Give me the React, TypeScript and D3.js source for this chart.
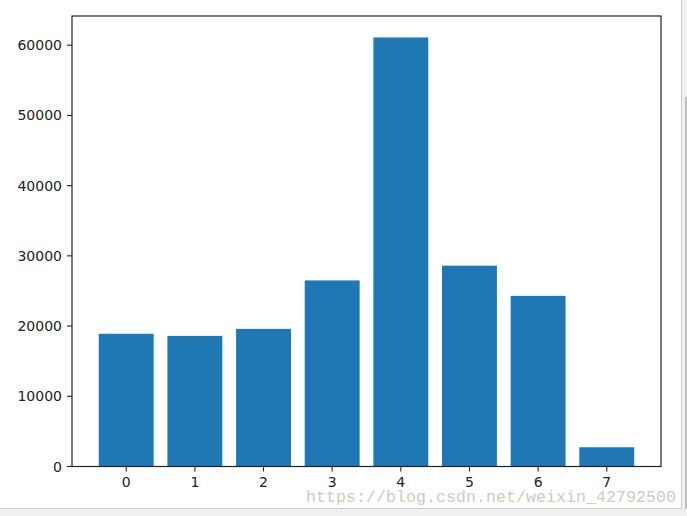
import React from "react";
import * as d3 from "d3";

const categories = ["0", "1", "2", "3", "4", "5", "6", "7"];
const values = [18900, 18600, 19600, 26500, 61100, 28600, 24300, 2740];
const yTicks = [0, 10000, 20000, 30000, 40000, 50000, 60000];

const W = 687;
const H = 516;
const M = { left: 72, right: 661, top: 16, bottom: 466.5 };

export default function App() {
  const n = categories.length;
  const x = d3
    .scaleLinear()
    .domain([-0.4 - 0.05 * (n - 0.2), n - 1 + 0.4 + 0.05 * (n - 0.2)])
    .range([M.left, M.right]);
  const ymax = (d3.max(values) as number) * 1.05;
  const y = d3.scaleLinear().domain([0, ymax]).range([M.bottom, M.top]);
  const bw = x(0.8) - x(0);
  const font = "DejaVu Sans, sans-serif";

  return (
    <svg
      width={W}
      height={H}
      style={{ position: "fixed", left: 0, top: 0, background: "#fff" }}
    >
      <rect x={0} y={0} width={W} height={H} fill="#fff" />
      {values.map((v, i) => (
        <rect
          key={i}
          x={x(i) - bw / 2}
          y={y(v)}
          width={bw}
          height={y(0) - y(v)}
          fill="#1f77b4"
        />
      ))}
      <rect
        x={M.left}
        y={M.top}
        width={M.right - M.left}
        height={M.bottom - M.top}
        fill="none"
        stroke="#222"
        strokeWidth={1.2}
      />
      {yTicks.map((t) => (
        <g key={t}>
          <line x1={M.left - 5} x2={M.left} y1={y(t)} y2={y(t)} stroke="#222" strokeWidth={1.1} />
          <text
            x={M.left - 10}
            y={y(t)}
            dy="0.36em"
            textAnchor="end"
            fontFamily={font}
            fontSize={14}
            fill="#222"
          >
            {t}
          </text>
        </g>
      ))}
      {categories.map((c, i) => (
        <g key={c}>
          <line x1={x(i)} x2={x(i)} y1={M.bottom} y2={M.bottom + 5} stroke="#222" strokeWidth={1.1} />
          <text
            x={x(i)}
            y={M.bottom + 10}
            dy="0.76em"
            textAnchor="middle"
            fontFamily={font}
            fontSize={14}
            fill="#222"
          >
            {c}
          </text>
        </g>
      ))}
      {/* window chrome */}
      <rect x={0} y={509} width={W} height={H - 509} fill="#f0f0f0" />
      <line x1={0} x2={681.5} y1={508.5} y2={508.5} stroke="#c8c8c8" strokeWidth={1} />
      <rect x={682} y={0} width={W - 682} height={509} fill="#f0f0f0" />
      <line x1={681.5} x2={681.5} y1={0} y2={509} stroke="#c8c8c8" strokeWidth={1} />
      <rect x={685} y={97} width={2} height={412} fill="#c0c0c0" />
      <text
        x={306}
        y={502}
        fontFamily="Liberation Mono, monospace"
        fontSize={16.6}
        fill="#cfcac2"
        textLength={370}
      >
        https://blog.csdn.net/weixin_42792500
      </text>
    </svg>
  );
}
